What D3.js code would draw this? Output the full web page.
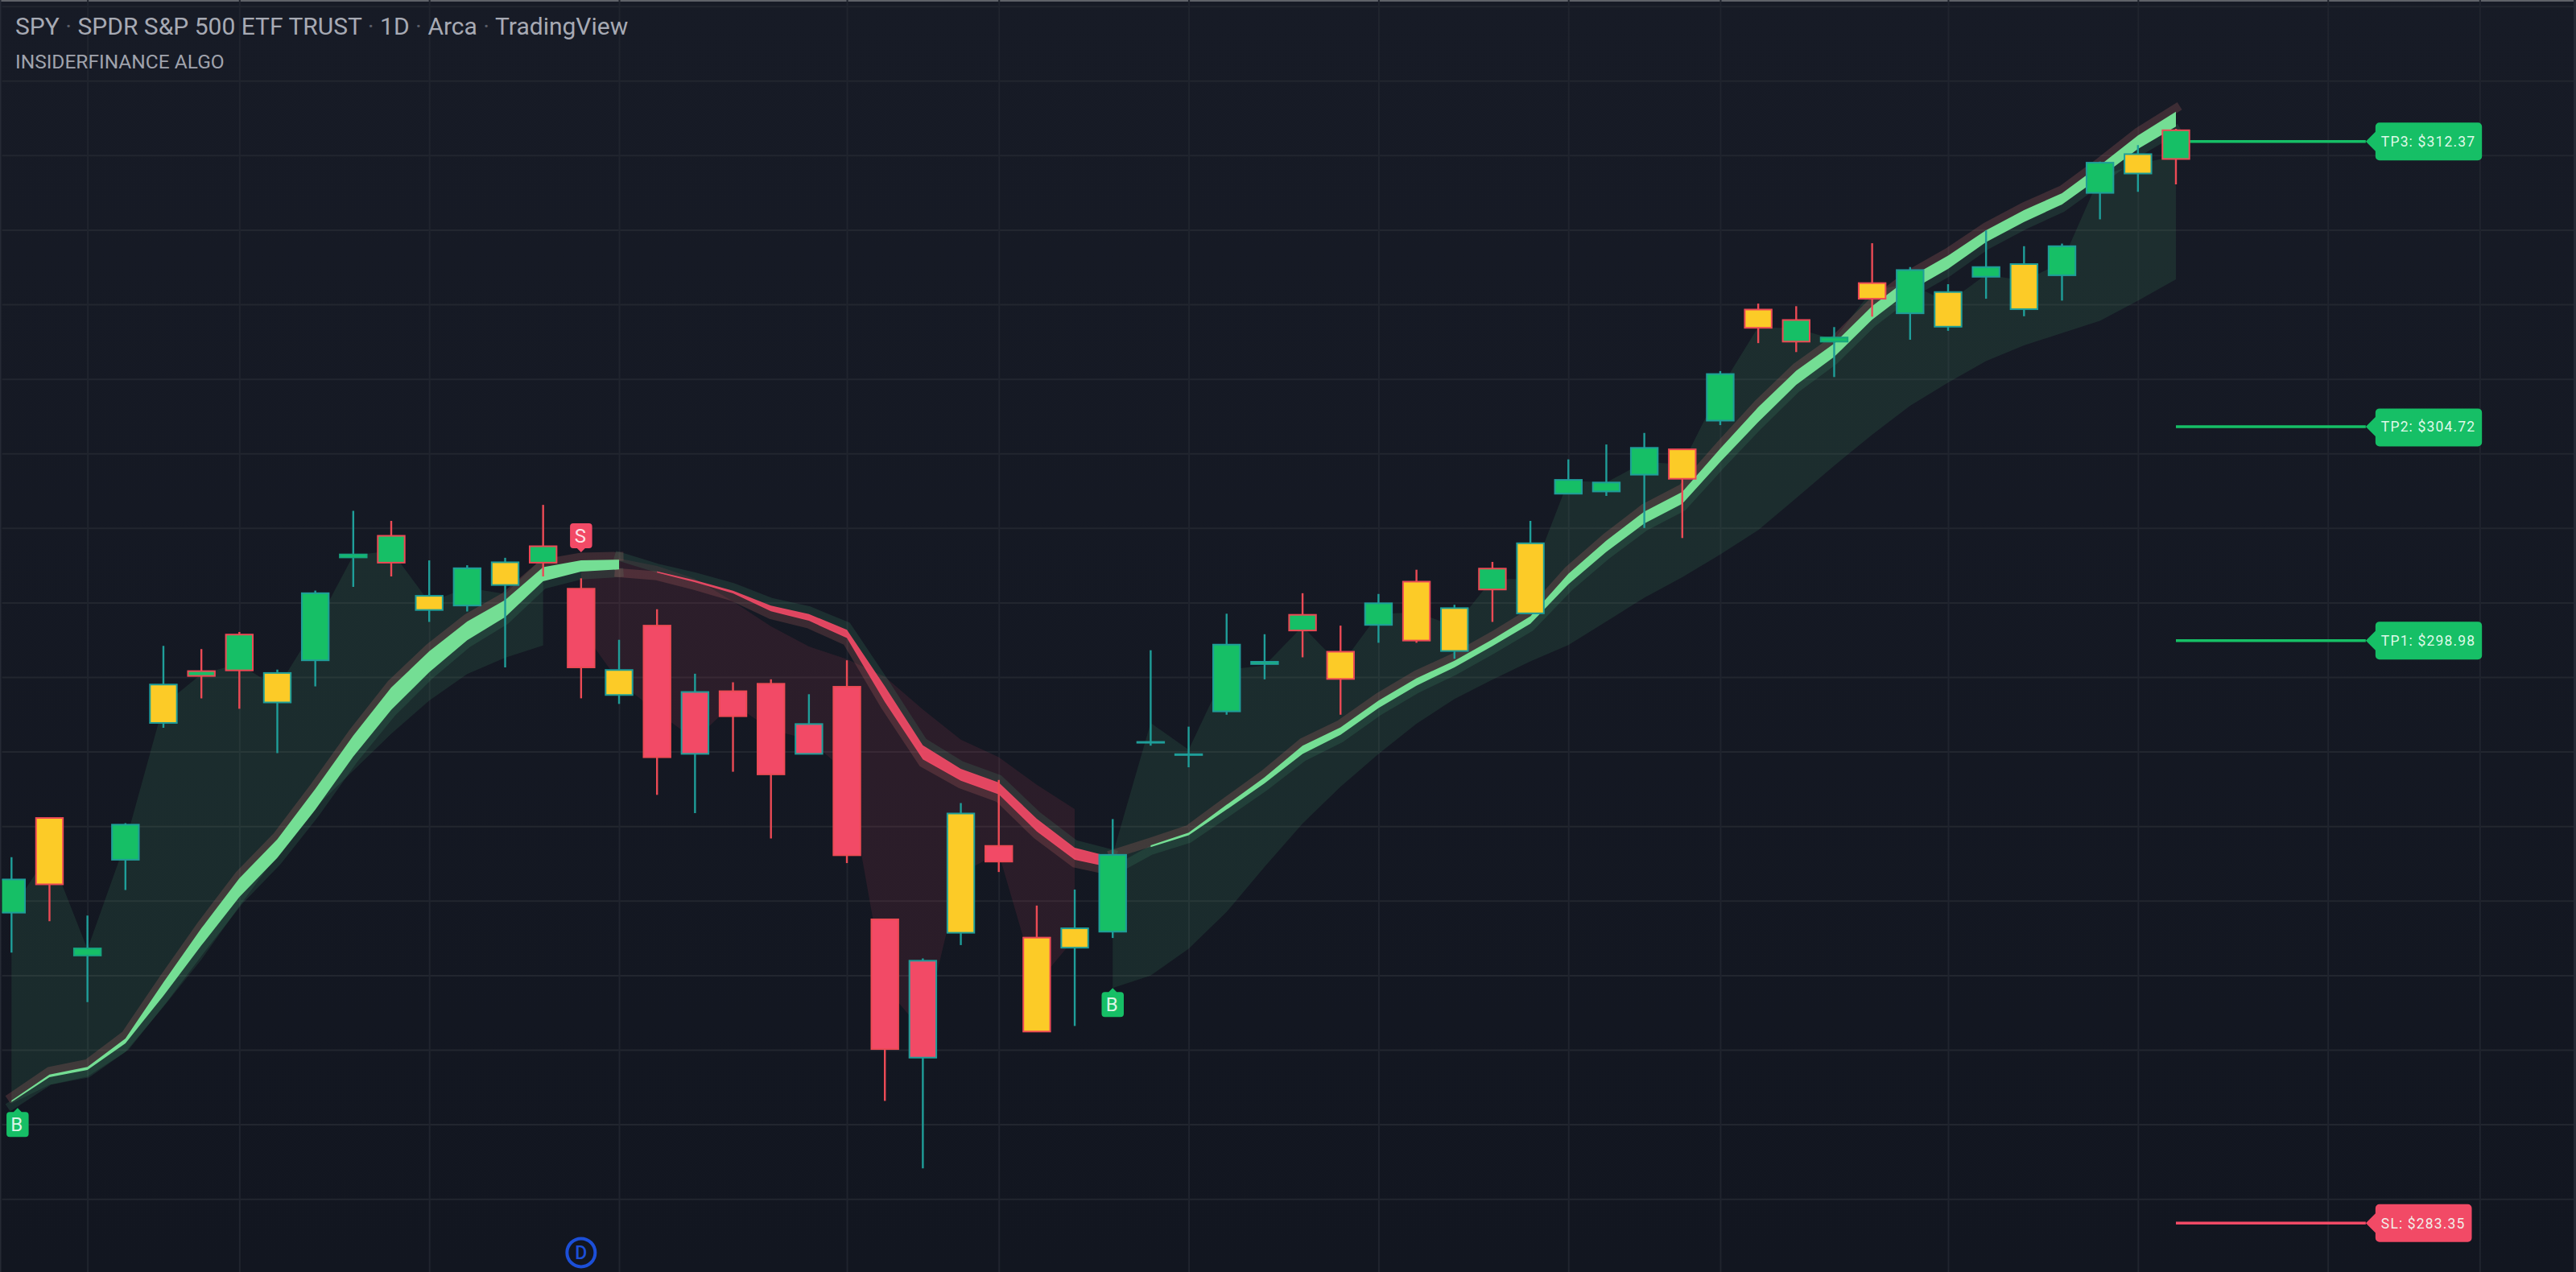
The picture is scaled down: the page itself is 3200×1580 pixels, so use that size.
<!DOCTYPE html>
<html><head><meta charset="utf-8">
<script src="https://cdn.jsdelivr.net/npm/d3@7/dist/d3.min.js"></script>
<style>html,body{margin:0;padding:0;background:#131722}svg{display:block}</style>
</head><body><svg id="c" width="3200" height="1580"></svg>
<script>
const titleParts = ["SPY","SPDR S&P 500 ETF TRUST","1D","Arca","TradingView"];
const subtitle = "INSIDERFINANCE ALGO";
const priceTicks = d3.range(282,318,2);
const dateTicks = [2,6,11,16,22,26,31,36,41,45,51,56,61,65];
const highs = [293.17,294.22,291.60,294.08,298.84,298.75,299.21,298.20,300.32,302.46,302.19,301.13,301.00,301.20,302.62,300.65,299.00,299.82,298.09,297.86,297.94,297.54,298.45,291.50,290.45,294.62,295.24,291.87,292.30,294.19,298.72,296.67,299.70,299.15,300.25,299.38,300.23,300.88,299.94,301.09,302.19,303.84,304.24,304.55,304.11,306.21,308.02,307.95,307.39,309.64,309.00,308.54,309.98,309.56,309.63,311.83,312.27,312.71];
const bodyTops = [292.57,294.22,290.72,294.04,297.80,298.16,299.14,298.11,300.25,301.29,301.79,300.18,300.92,301.08,301.51,300.37,298.19,299.38,297.60,297.62,297.82,296.74,297.74,291.50,290.39,294.34,293.47,291.01,291.26,293.23,296.26,295.93,298.87,298.41,299.67,298.68,299.98,300.56,299.85,300.91,301.59,303.29,303.22,304.15,304.11,306.13,307.86,307.58,307.11,308.57,308.92,308.33,309.00,309.08,309.56,311.80,312.03,312.67];
const bodyBottoms = [291.68,292.44,290.53,293.10,296.77,298.03,298.18,297.32,298.45,301.21,301.07,299.80,299.92,300.47,301.07,298.26,297.52,295.85,295.94,296.95,295.39,295.94,293.22,288.02,287.79,291.14,293.05,288.49,290.74,291.17,296.24,295.91,297.08,298.35,299.25,297.95,299.40,298.98,298.70,300.35,299.71,302.92,302.98,303.43,303.32,304.88,307.37,307.00,307.00,308.15,307.76,307.40,308.74,307.87,308.78,310.99,311.51,311.90];
const lows = [290.61,291.45,289.28,292.29,296.64,297.43,297.15,295.96,297.75,300.42,300.70,299.48,299.76,298.26,300.70,297.43,297.28,294.84,294.35,295.46,293.67,295.94,293.01,286.63,284.82,290.81,292.77,288.49,288.64,291.00,296.16,295.58,296.99,297.94,298.53,296.99,298.92,298.92,298.49,299.48,299.71,302.92,302.86,302.00,301.73,304.76,306.96,306.72,306.05,307.67,307.05,307.29,308.15,307.68,308.10,310.28,311.02,311.22];
const bodyType = ["g","y","g","g","y","g","g","y","g","g","g","y","g","y","g","r","y","r","r","r","r","r","r","r","r","y","r","y","y","g","g","g","g","g","g","y","g","y","y","g","y","g","g","g","y","g","y","g","g","y","g","y","g","y","g","g","y","g"];
const edgeType = ["t","r","t","t","t","r","r","t","t","t","r","t","t","t","r","r","t","r","t","r","r","t","r","r","t","t","r","r","t","t","t","t","t","t","r","r","t","r","t","r","t","t","t","t","r","t","r","r","t","r","t","t","t","t","t","t","t","r"];
const trail = [286.62,287.30,287.50,288.24,289.63,291.03,292.35,293.40,294.72,296.15,297.42,298.41,299.24,299.84,300.76,300.98,301.02,300.82,300.57,300.28,299.84,299.60,299.16,297.54,295.98,295.38,295.01,294.03,293.26,293.02,293.46,293.79,294.51,295.23,296.05,296.55,297.27,297.87,298.35,298.92,299.53,300.63,301.51,302.28,302.81,303.95,305.04,306.03,306.77,307.77,308.55,309.13,309.83,310.37,310.83,311.57,312.35,312.97];
const trailSpread = [.04,.07,.08,.13,.36,.46,.50,.50,.56,.56,.60,.56,.50,.46,.38,.30,.26,.03,.05,.07,.15,.18,.22,.42,.38,.32,.32,.34,.32,.28,.05,.07,.13,.16,.22,.20,.20,.20,.18,.18,.20,.28,.30,.32,.32,.36,.40,.38,.36,.36,.36,.36,.32,.32,.30,.32,.36,.40];
const cloudUpperA = [291.75,293.29,290.70,293.56,297.25,298.08,298.36,297.70,299.35,301.26,301.39,300.01,300.40,300.23,301.22];
const cloudLowerA = [286.56,287.06,287.28,287.94,289.15,290.42,291.85,293.23,294.50,295.49,296.48,297.37,298.08,298.52,298.85];
const cloudUpperB = [301.04,301.18,300.98,300.64,300.03,299.36,298.82,298.48,298.01,297.13,296.32,295.85,295.11,294.46];
const cloudLowerB = [299.29,297.87,297.06,296.32,297.29,296.59,296.32,295.44,289.70,288.49,292.74,293.27,289.77,290.99];
const cloudUpperC = [293.24,296.77,296.05,298.20,298.31,299.36,298.31,299.69,299.74,299.36,300.63,300.63,303.27,303.22,303.77,303.71,305.74,307.39,307.35,307.06,308.38,308.55,308.05,308.80,308.63,309.13,311.44,311.77,311.98];
const cloudLowerC = [289.66,289.99,290.71,291.70,292.91,294.07,295.06,295.94,296.75,297.41,297.93,298.42,298.86,299.49,300.13,300.68,301.29,301.94,302.80,303.67,304.50,305.28,305.90,306.48,306.90,307.23,307.56,308.10,308.67];
const signalLabels = ["B","S","B"];
const signalIndex = [0.16,15,29];
const signalPrice = [286.44,301.35,289.66];
const targetLabels = ["TP3: $312.37","TP2: $304.72","TP1: $298.98","SL: $283.35"];
const targetPrices = [312.37,304.72,298.98,283.35];
const dividendLabel = "D", dividendIndex = 15, dividendPrice = 282.56;

const C = {green:"#16bf66",yellow:"#fccb27",red:"#f24a66",teal:"#1f9e99",edgeRed:"#ec4a55",line:"#74de94"};
const svg = d3.select("#c");
const W = 3200, H = 1580, LEFT = 2.5, RIGHT = 3197;
const x = d3.scaleLinear().domain([0,57]).range([14.3,2703]);
const y = d3.scaleLinear().domain([312.37,283.35]).range([175.7,1519.3]);

const defs = svg.append("defs");
const g0 = defs.append("linearGradient").attr("id","bg").attr("x1",0).attr("x2",0).attr("y1",0).attr("y2",1);
g0.append("stop").attr("offset",0).attr("stop-color","#171b26");
g0.append("stop").attr("offset",1).attr("stop-color","#121620");
defs.append("clipPath").attr("id","plot").append("rect").attr("x",LEFT).attr("y",3).attr("width",RIGHT-LEFT).attr("height",H);

svg.append("rect").attr("width",W).attr("height",H).attr("fill","url(#bg)");
svg.append("rect").attr("width",W).attr("height",2).attr("fill","#5f6269");
svg.append("rect").attr("x",0).attr("width",LEFT-1).attr("height",H).attr("fill","#262a35");
svg.append("rect").attr("x",RIGHT).attr("width",W-RIGHT).attr("height",H).attr("fill","#262a35");

const gy = svg.append("g").attr("transform",`translate(${LEFT},0)`)
  .call(d3.axisLeft(y).tickValues(priceTicks).tickSize(-(RIGHT-LEFT)).tickFormat(""));
const gx = svg.append("g").attr("transform",`translate(0,${H})`)
  .call(d3.axisBottom(x).tickValues(dateTicks).tickSize(-(H)).tickFormat(""));
gy.select(".domain").remove(); gx.select(".domain").remove();
gy.selectAll("line").attr("stroke","#22262f").attr("stroke-width",2);
gx.selectAll("line").attr("stroke","#20242e").attr("stroke-width",2);

const plot = svg.append("g").attr("clip-path","url(#plot)");

function cloud(up,lo,start,fill){
  const a = d3.area().x((d,i)=>x(start+i)).y0((d,i)=>y(lo[i])).y1((d,i)=>y(up[i]));
  plot.append("path").attr("d",a(up)).attr("fill",fill);
}
cloud(cloudUpperA,cloudLowerA,0,"rgba(90,200,135,0.115)");
cloud(cloudUpperB,cloudLowerB,15,"rgba(242,74,102,0.105)");
cloud(cloudUpperC,cloudLowerC,29,"rgba(90,200,135,0.115)");

const glowRed = "rgba(236,130,120,0.18)", glowGreen = "rgba(90,210,150,0.12)";
function glow(from,to,upColor,loColor){
  const idx = d3.range(from,to+1);
  const off = 0.09;
  const up = d3.line().x(i=>x(i)).y(i=>y(trail[i]+trailSpread[i]/2+off));
  const lo = d3.line().x(i=>x(i)).y(i=>y(trail[i]-trailSpread[i]/2-off));
  plot.append("path").attr("d",up(idx)).attr("fill","none").attr("stroke",upColor).attr("stroke-width",11).attr("stroke-linecap","square");
  plot.append("path").attr("d",lo(idx)).attr("fill","none").attr("stroke",loColor).attr("stroke-width",11).attr("stroke-linecap","square");
}
glow(0,16,glowRed,glowGreen);
glow(16,29,glowGreen,glowRed);
glow(29,57,glowRed,glowGreen);

const band = d3.area().x(i=>x(i)).y0(i=>y(trail[i]-trailSpread[i]/2)).y1(i=>y(trail[i]+trailSpread[i]/2));
plot.append("path").attr("d",band(d3.range(0,17))).attr("fill",C.line);
plot.append("path").attr("d",band(d3.range(17,30))).attr("fill",C.red).attr("opacity",.92);
plot.append("path").attr("d",band(d3.range(30,58))).attr("fill",C.line);

const targetColor = (l)=>l.startsWith("SL")?C.red:C.green;
const TIP = 62, BODY_GAP = 12, TAG_H = 47;
plot.selectAll(".tline").data(targetPrices).join("line").attr("class","tline")
  .attr("x1",x(57)).attr("x2",x(TIP)).attr("y1",d=>y(d)).attr("y2",d=>y(d))
  .attr("stroke",(d,i)=>targetColor(targetLabels[i])).attr("stroke-width",3.5);

const fillOf = {g:C.green,y:C.yellow,r:C.red}, edgeOf = {t:C.teal,r:C.edgeRed};
const candles = plot.selectAll(".candle").data(d3.range(highs.length)).join("g").attr("class","candle");
candles.append("line").attr("x1",i=>x(i)).attr("x2",i=>x(i)).attr("y1",i=>y(highs[i])).attr("y2",i=>y(lows[i]))
  .attr("stroke",i=>edgeOf[edgeType[i]]).attr("stroke-width",2.4);
candles.append("rect").attr("x",i=>x(i)-16.7).attr("width",33.4)
  .attr("y",i=>y(bodyTops[i])).attr("height",i=>Math.max(1,y(bodyBottoms[i])-y(bodyTops[i])))
  .attr("fill",i=>fillOf[bodyType[i]])
  .attr("stroke",i=>{
    const h=y(bodyBottoms[i])-y(bodyTops[i]);
    if(h<9&&edgeType[i]==="t")return h<3?C.teal:"#17a57f";
    return edgeOf[edgeType[i]];
  }).attr("stroke-width",2);

signalLabels.forEach((t,i)=>{
  const cx=x(signalIndex[i]), tip=y(signalPrice[i]), col=t==="B"?C.green:C.red;
  const up=t==="S";
  const w=27.5,h=31,r=4,a=5;
  const top=up?tip-a-h:tip+a, bot=top+h;
  const p=d3.path();
  p.moveTo(cx-w/2+r,top);
  if(!up){p.lineTo(cx-5,top);p.lineTo(cx,tip);p.lineTo(cx+5,top);}
  p.lineTo(cx+w/2-r,top);p.arcTo(cx+w/2,top,cx+w/2,top+r,r);
  p.lineTo(cx+w/2,bot-r);p.arcTo(cx+w/2,bot,cx+w/2-r,bot,r);
  if(up){p.lineTo(cx+5,bot);p.lineTo(cx,tip);p.lineTo(cx-5,bot);}
  p.lineTo(cx-w/2+r,bot);p.arcTo(cx-w/2,bot,cx-w/2,bot-r,r);
  p.lineTo(cx-w/2,top+r);p.arcTo(cx-w/2,top,cx-w/2+r,top,r);p.closePath();
  svg.append("path").attr("d",p.toString()).attr("fill",col);
  svg.append("text").attr("x",cx-1).attr("y",(top+bot)/2+8.5).attr("text-anchor","middle")
    .attr("font-family","Roboto, sans-serif").attr("font-size",24).attr("fill","#ffffff").attr("fill-opacity",.85).text(t);
});

svg.append("circle").attr("cx",x(dividendIndex)).attr("cy",y(dividendPrice)).attr("r",17.5).attr("fill","none").attr("stroke","#1c4fd8").attr("stroke-width",4);
svg.append("text").attr("x",x(dividendIndex)).attr("y",y(dividendPrice)+8).attr("text-anchor","middle")
  .attr("font-family","Roboto, sans-serif").attr("font-weight",500).attr("font-size",23).attr("fill","#1c4fd8").text(dividendLabel);

targetLabels.forEach((t,i)=>{
  const yy=y(targetPrices[i]), tip=x(TIP), left=tip+BODY_GAP, col=targetColor(t);
  const txt=svg.append("text").attr("x",left+7).attr("y",yy+6.3)
    .attr("font-family","Roboto, sans-serif").attr("font-size",17.5).attr("letter-spacing",1.15)
    .attr("fill","#f2fff7").attr("fill-opacity",.92).text(t);
  const w=txt.node().getComputedTextLength()+15, r=5, hh=TAG_H/2, top=yy-hh+(i===1?1:0), bot=yy+hh+(i===1?1:0);
  const p=d3.path();
  p.moveTo(tip,yy);p.lineTo(left,yy-12);p.lineTo(left,top+r);p.arcTo(left,top,left+r,top,r);
  p.lineTo(left+w-r,top);p.arcTo(left+w,top,left+w,top+r,r);
  p.lineTo(left+w,bot-r);p.arcTo(left+w,bot,left+w-r,bot,r);
  p.lineTo(left+r,bot);p.arcTo(left,bot,left,bot-r,r);p.lineTo(left,yy+12);p.closePath();
  svg.insert("path",()=>txt.node()).attr("d",p.toString()).attr("fill",col);
});

const tt=svg.append("text").attr("x",19).attr("y",43).attr("font-family","Roboto, sans-serif").attr("font-size",30).attr("fill","#a7aab4");
titleParts.forEach((t,i)=>{
  if(i) tt.append("tspan").attr("fill","#5a5d68").text(" \u00b7 ");
  tt.append("tspan").text(t);
});
svg.append("text").attr("x",19).attr("y",85).attr("font-family","Roboto, sans-serif").attr("font-size",24.5).attr("fill","#a0a3ad").text(subtitle);
</script></body></html>
